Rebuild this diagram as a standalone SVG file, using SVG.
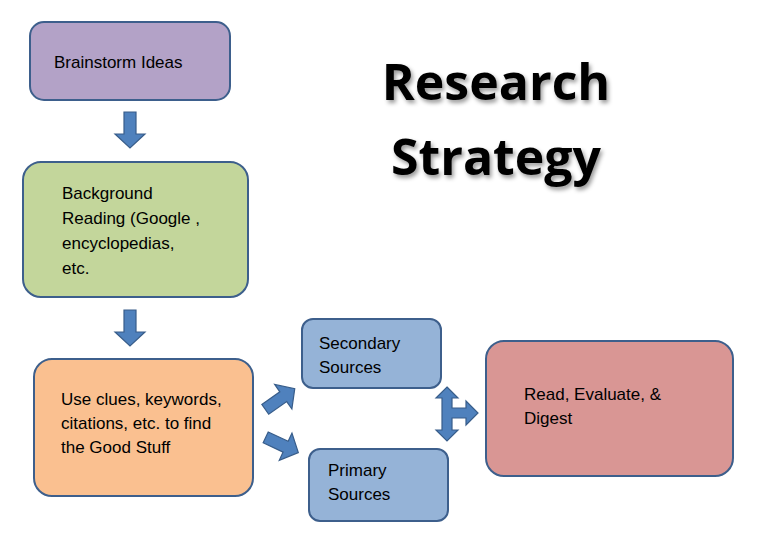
<svg xmlns="http://www.w3.org/2000/svg" width="765" height="541" viewBox="0 0 765 541">
<style>
.box{stroke:#3d5f8c;stroke-width:2}
.t{font-family:"Liberation Sans",Arial,sans-serif;font-size:17px;fill:#000}
.arr{fill:#4f81bd;stroke:#385d8a;stroke-width:1.2}
.title{font-family:"Open Sans","Liberation Sans",sans-serif;font-weight:bold;font-size:50px;fill:#000;text-anchor:middle}
</style>
<defs>
<path id="ba" d="M-18,-6 L4,-6 L4,-15 L18,0 L4,15 L4,6 L-18,6 Z"/>
<filter id="sh" x="-10%" y="-10%" width="130%" height="140%"><feDropShadow dx="2" dy="3" stdDeviation="2" flood-color="#000" flood-opacity="0.4"/></filter>
</defs>
<rect width="765" height="541" fill="#fff"/>
<g id="title" filter="url(#sh)">
<text class="title" x="496" y="100">Research</text>
<text class="title" x="496" y="175">Strategy</text>
</g>
<g id="brainstorm"><rect class="box" x="30" y="22" width="200" height="78" rx="14" fill="#b3a2c7"/><text class="t" x="54" y="68">Brainstorm Ideas</text></g>
<g id="background"><rect class="box" x="23" y="162" width="225" height="135" rx="18" fill="#c3d69b"/>
<text class="t"><tspan x="62" y="199">Background</tspan><tspan x="62" y="224">Reading (Google ,</tspan><tspan x="62" y="249">encyclopedias,</tspan><tspan x="62" y="274">etc.</tspan></text></g>
<g id="clues"><rect class="box" x="34" y="359" width="219" height="137" rx="18" fill="#fac090"/>
<text class="t"><tspan x="61" y="405">Use clues, keywords,</tspan><tspan x="61" y="429">citations, etc. to find</tspan><tspan x="61" y="453">the Good Stuff</tspan></text></g>
<g id="secondary"><rect class="box" x="302" y="319" width="139" height="69" rx="11" fill="#95b3d7"/>
<text class="t"><tspan x="319" y="349">Secondary</tspan><tspan x="319" y="373">Sources</tspan></text></g>
<g id="primary"><rect class="box" x="309" y="449" width="139" height="72" rx="11" fill="#95b3d7"/>
<text class="t"><tspan x="328" y="476">Primary</tspan><tspan x="328" y="500">Sources</tspan></text></g>
<g id="read"><rect class="box" x="486" y="341" width="247" height="135" rx="18" fill="#d99694"/>
<text class="t"><tspan x="524" y="400">Read, Evaluate,  &amp;</tspan><tspan x="524" y="424">Digest</tspan></text></g>
<g id="connectors">
<use href="#ba" class="arr" transform="translate(130,130) rotate(90)"/>
<use href="#ba" class="arr" transform="translate(130,328) rotate(90)"/>
<use href="#ba" class="arr" transform="translate(280,399) rotate(-35)"/>
<use href="#ba" class="arr" transform="translate(282,445) rotate(25)"/>
<path class="arr" d="M447,387 L458,398 L452,398 L452,408 L466,408 L466,401 L478,413 L466,425 L466,418 L452,418 L452,430 L458,430 L447,441 L436,430 L442,430 L442,398 L436,398 Z"/>
</g>
</svg>
